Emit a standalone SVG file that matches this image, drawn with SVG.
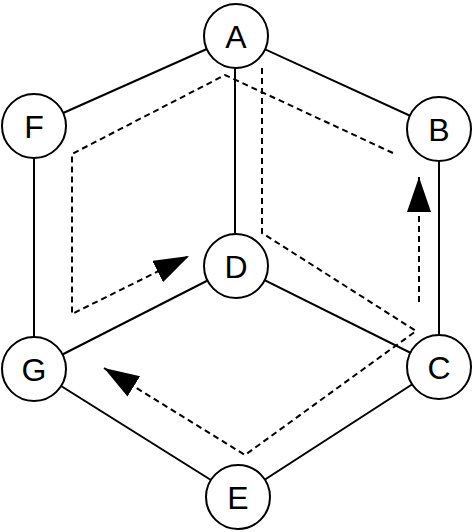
<svg xmlns="http://www.w3.org/2000/svg" width="474" height="532" viewBox="0 0 474 532">
<style>
.edge{stroke:#000;stroke-width:2;fill:none}
.dash{stroke:#000;stroke-width:2;fill:none;stroke-dasharray:6 4}
.node circle{fill:#fff;stroke:#000;stroke-width:2}
.node text{font-family:"Liberation Sans",Arial,sans-serif;font-size:32px;text-anchor:middle;fill:#000}
</style>
<defs>
<marker id="arr" markerUnits="userSpaceOnUse" markerWidth="36" markerHeight="26" refX="35" refY="12" orient="auto">
<path d="M0,0 L35,12 L0,24 z" fill="#000"/>
</marker>
</defs>
<rect width="474" height="532" fill="#fff"/>
<g id="connectors">
<line class="edge" x1="236" y1="36" x2="34" y2="126"/>
<line class="edge" x1="236" y1="36" x2="439" y2="129"/>
<line class="edge" x1="235" y1="36" x2="235" y2="266"/>
<line class="edge" x1="34" y1="126" x2="34" y2="369"/>
<line class="edge" x1="439" y1="129" x2="439" y2="367"/>
<line class="edge" x1="236" y1="266" x2="34" y2="369"/>
<line class="edge" x1="236" y1="266" x2="439" y2="367"/>
<line class="edge" x1="34" y1="369" x2="238" y2="497"/>
<line class="edge" x1="439" y1="367" x2="238" y2="497"/>
<path class="dash" d="M393,153 L225,75 L72,154 L72,314 L189,256" marker-end="url(#arr)"/>
<path class="dash" d="M262,68 L262,233 L416,331 L245,455 L104,368" marker-end="url(#arr)"/>
<path class="dash" d="M419,302 L419,177" marker-end="url(#arr)"/>
</g>
<g id="node-A" class="node"><circle cx="236" cy="36" r="32"/><text x="236" y="47.5">A</text></g>
<g id="node-B" class="node"><circle cx="439" cy="129" r="32"/><text x="439" y="140.5">B</text></g>
<g id="node-C" class="node"><circle cx="439" cy="367" r="32"/><text x="439" y="378.5">C</text></g>
<g id="node-D" class="node"><circle cx="236" cy="266" r="32"/><text x="236" y="277.5">D</text></g>
<g id="node-E" class="node"><circle cx="238" cy="497" r="32"/><text x="238" y="508.5">E</text></g>
<g id="node-F" class="node"><circle cx="34" cy="126" r="32"/><text x="34" y="137.5">F</text></g>
<g id="node-G" class="node"><circle cx="34" cy="369" r="32"/><text x="34" y="380.5">G</text></g>
</svg>
